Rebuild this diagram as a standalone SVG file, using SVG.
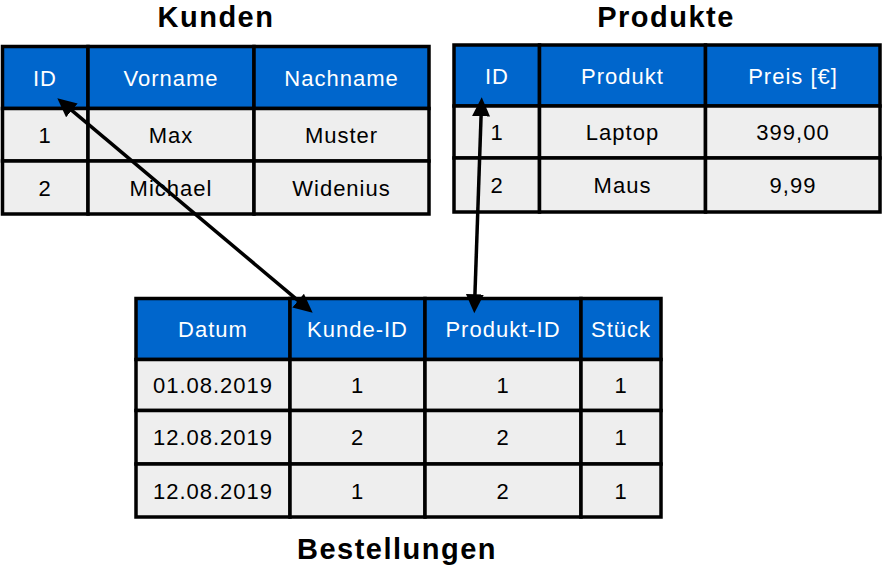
<svg xmlns="http://www.w3.org/2000/svg" width="882" height="567" viewBox="0 0 882 567">
<style>
.h{fill:#0066CC;stroke:#000;stroke-width:3.5}
.c{fill:#EEEEEE;stroke:#000;stroke-width:3.5}
.ht{font-family:"Liberation Sans",Arial,sans-serif;font-size:22px;letter-spacing:1px;fill:#fff;text-anchor:middle}
.ct{font-family:"Liberation Sans",Arial,sans-serif;font-size:22px;letter-spacing:1px;fill:#000;text-anchor:middle}
.title{font-family:"Liberation Sans",Arial,sans-serif;font-size:29px;font-weight:bold;letter-spacing:1.5px;fill:#000;text-anchor:middle}
.conn{fill:none;stroke:#000;stroke-width:3.5}
</style>
<defs>
<marker id="ah" markerUnits="userSpaceOnUse" markerWidth="20" markerHeight="20" viewBox="0 0 20 18" refX="4" refY="9" orient="auto-start-reverse">
<path d="M0,0 L19,9 L0,18 Z" fill="#000"/>
</marker>
</defs>

<g id="kunden">
<text class="title" x="216" y="26.5">Kunden</text>
<rect class="h" x="2.5" y="46.5" width="85.5" height="62"/>
<rect class="h" x="88" y="46.5" width="166" height="62"/>
<rect class="h" x="254" y="46.5" width="175" height="62"/>
<rect class="c" x="2.5" y="108.5" width="85.5" height="52.5"/>
<rect class="c" x="88" y="108.5" width="166" height="52.5"/>
<rect class="c" x="254" y="108.5" width="175" height="52.5"/>
<rect class="c" x="2.5" y="161" width="85.5" height="53"/>
<rect class="c" x="88" y="161" width="166" height="53"/>
<rect class="c" x="254" y="161" width="175" height="53"/>
<text class="ht" x="45" y="85.5">ID</text>
<text class="ht" x="171" y="85.5">Vorname</text>
<text class="ht" x="341.5" y="85.5">Nachname</text>
<text class="ct" x="45" y="142.7">1</text>
<text class="ct" x="171" y="142.7">Max</text>
<text class="ct" x="341.5" y="142.7">Muster</text>
<text class="ct" x="45" y="195.5">2</text>
<text class="ct" x="171" y="195.5">Michael</text>
<text class="ct" x="341.5" y="195.5">Widenius</text>
</g>

<g id="produkte">
<text class="title" x="666" y="26.5">Produkte</text>
<rect class="h" x="454" y="45" width="85.5" height="61"/>
<rect class="h" x="539.5" y="45" width="166" height="61"/>
<rect class="h" x="705.5" y="45" width="174.5" height="61"/>
<rect class="c" x="454" y="106" width="85.5" height="52"/>
<rect class="c" x="539.5" y="106" width="166" height="52"/>
<rect class="c" x="705.5" y="106" width="174.5" height="52"/>
<rect class="c" x="454" y="158" width="85.5" height="54"/>
<rect class="c" x="539.5" y="158" width="166" height="54"/>
<rect class="c" x="705.5" y="158" width="174.5" height="54"/>
<text class="ht" x="497" y="83.5">ID</text>
<text class="ht" x="622.5" y="83.5">Produkt</text>
<text class="ht" x="793" y="83.5">Preis [€]</text>
<text class="ct" x="497" y="140">1</text>
<text class="ct" x="622.5" y="140">Laptop</text>
<text class="ct" x="793" y="140">399,00</text>
<text class="ct" x="497" y="193">2</text>
<text class="ct" x="622.5" y="193">Maus</text>
<text class="ct" x="793" y="193">9,99</text>
</g>

<g id="bestellungen">
<text class="title" x="397" y="559">Bestellungen</text>
<rect class="h" x="136" y="298.5" width="154" height="61"/>
<rect class="h" x="290" y="298.5" width="135" height="61"/>
<rect class="h" x="425" y="298.5" width="156" height="61"/>
<rect class="h" x="581" y="298.5" width="80" height="61"/>
<rect class="c" x="136" y="359.5" width="154" height="51"/>
<rect class="c" x="290" y="359.5" width="135" height="51"/>
<rect class="c" x="425" y="359.5" width="156" height="51"/>
<rect class="c" x="581" y="359.5" width="80" height="51"/>
<rect class="c" x="136" y="410.5" width="154" height="53.5"/>
<rect class="c" x="290" y="410.5" width="135" height="53.5"/>
<rect class="c" x="425" y="410.5" width="156" height="53.5"/>
<rect class="c" x="581" y="410.5" width="80" height="53.5"/>
<rect class="c" x="136" y="464" width="154" height="53"/>
<rect class="c" x="290" y="464" width="135" height="53"/>
<rect class="c" x="425" y="464" width="156" height="53"/>
<rect class="c" x="581" y="464" width="80" height="53"/>
<text class="ht" x="213" y="337">Datum</text>
<text class="ht" x="357.5" y="337">Kunde-ID</text>
<text class="ht" x="503" y="337">Produkt-ID</text>
<text class="ht" x="621" y="337">Stück</text>
<text class="ct" x="213" y="393">01.08.2019</text>
<text class="ct" x="357.5" y="393">1</text>
<text class="ct" x="503" y="393">1</text>
<text class="ct" x="621" y="393">1</text>
<text class="ct" x="213" y="445">12.08.2019</text>
<text class="ct" x="357.5" y="445">2</text>
<text class="ct" x="503" y="445">2</text>
<text class="ct" x="621" y="445">1</text>
<text class="ct" x="213" y="498.5">12.08.2019</text>
<text class="ct" x="357.5" y="498.5">1</text>
<text class="ct" x="503" y="498.5">2</text>
<text class="ct" x="621" y="498.5">1</text>
</g>

<g id="connectors">
<path class="conn" d="M68.8,107.9 L301.2,303.1" marker-start="url(#ah)" marker-end="url(#ah)"/>
<path class="conn" d="M481.2,112.3 L474.8,298.3" marker-start="url(#ah)" marker-end="url(#ah)"/>
</g>
</svg>
